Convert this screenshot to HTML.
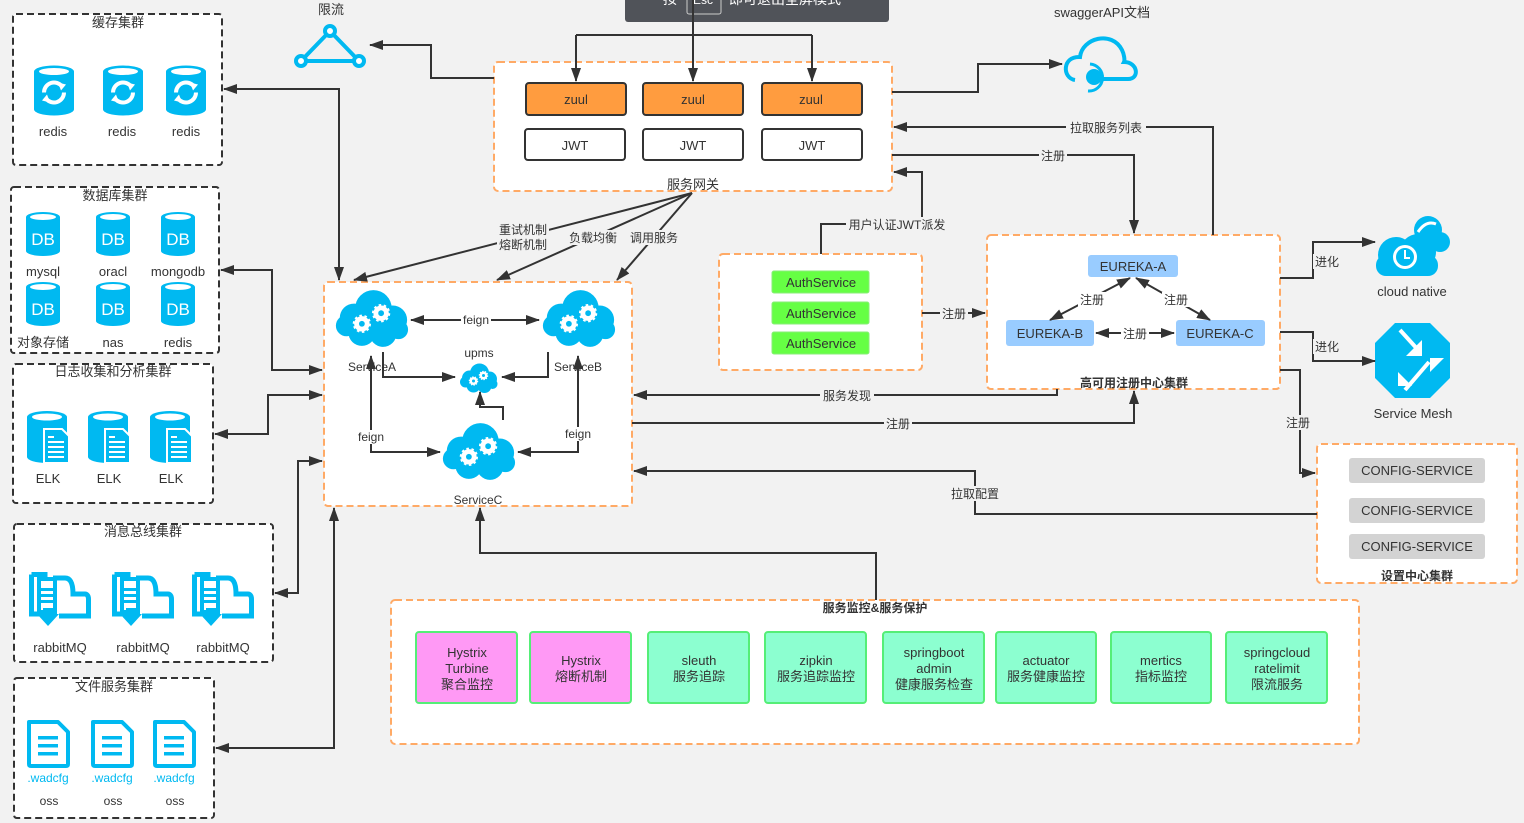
<!DOCTYPE html>
<html><head><meta charset="utf-8"><style>
html,body{margin:0;padding:0;background:#f2f2f2;}
svg{display:block;font-family:"Liberation Sans","Noto Sans CJK SC",sans-serif;}
</style></head><body>
<svg width="1524" height="823" viewBox="0 0 1524 823" xmlns="http://www.w3.org/2000/svg">
<defs>
<marker id="ar" markerWidth="14" markerHeight="10" refX="13" refY="5" orient="auto" markerUnits="userSpaceOnUse"><path d="M0,0 L14,5 L0,10 z" fill="#333"/></marker>
<marker id="as" markerWidth="14" markerHeight="10" refX="1" refY="5" orient="auto" markerUnits="userSpaceOnUse"><path d="M14,0 L0,5 L14,10 z" fill="#333"/></marker>
<symbol id="cloud" viewBox="0 0 80 64">
<circle cx="42" cy="22" r="19" fill="#00b9f1"/><circle cx="22" cy="32" r="15" fill="#00b9f1"/><circle cx="62" cy="34" r="15" fill="#00b9f1"/><circle cx="30" cy="47" r="14" fill="#00b9f1"/><circle cx="52" cy="48" r="14" fill="#00b9f1"/><circle cx="14" cy="40" r="11" fill="#00b9f1"/><circle cx="68" cy="44" r="10" fill="#00b9f1"/>
<circle cx="30" cy="38" r="8" fill="#fff" stroke="#fff" stroke-width="3" stroke-dasharray="2.5 2.5"/><circle cx="30" cy="38" r="3" fill="#00b9f1"/>
<circle cx="50" cy="27" r="8" fill="#fff" stroke="#fff" stroke-width="3" stroke-dasharray="2.5 2.5"/><circle cx="50" cy="27" r="3" fill="#00b9f1"/>
</symbol>
<symbol id="redis" viewBox="0 0 40 50">
<path d="M0,6 A20,6 0 0 1 40,6 V44 A20,6 0 0 1 0,44 Z" fill="#00b9f1"/><ellipse cx="20" cy="6" rx="15" ry="3.5" fill="#fff"/>
<path d="M10,27 A10,10 0 0 1 28,21" stroke="#fff" stroke-width="4" fill="none"/><path d="M30,27 A10,10 0 0 1 12,33" stroke="#fff" stroke-width="4" fill="none"/>
<path d="M24,17 L32,19 L27,25 z" fill="#fff"/><path d="M16,37 L8,35 L13,29 z" fill="#fff"/>
</symbol>
<symbol id="db" viewBox="0 0 34 44">
<path d="M0,5 A17,5 0 0 1 34,5 V39 A17,5 0 0 1 0,39 Z" fill="#00b9f1"/><ellipse cx="17" cy="5" rx="13" ry="3" fill="#fff"/>
</symbol>
<symbol id="elk" viewBox="0 0 42 52">
<path d="M0,6 A20,6 0 0 1 40,6 V46 A20,6 0 0 1 0,46 Z" fill="#00b9f1"/><ellipse cx="20" cy="6" rx="15" ry="3.5" fill="#fff"/>
<path d="M17,18 H35 L42,25 V52 H17 Z" fill="#00b9f1" stroke="#fff" stroke-width="2"/>
<g fill="#fff"><rect x="21" y="25" width="6" height="2"/><rect x="21" y="30" width="16" height="2"/><rect x="21" y="35" width="16" height="2"/><rect x="21" y="40" width="16" height="2"/><rect x="21" y="45" width="16" height="2"/></g>
</symbol>
<symbol id="mq" viewBox="0 0 62 56">
<path d="M2.5,2.5 H16 V7 M2.5,2.5 V42 H10" stroke="#00b9f1" stroke-width="5" fill="none"/>
<path d="M24,6 H36 C42,6 44,12 44,22 H56 C58,22 59.5,24 59.5,27 V44 H30" stroke="#00b9f1" stroke-width="5" fill="none"/>
<rect x="10" y="7" width="16" height="33" fill="#fff" stroke="#00b9f1" stroke-width="4"/>
<g fill="#00b9f1"><rect x="12" y="16" width="14" height="3"/><rect x="12" y="22" width="14" height="3"/><rect x="12" y="28" width="14" height="3"/></g>
<rect x="14" y="36" width="10" height="8" fill="#00b9f1"/>
<path d="M8,42 H30 L19,54 Z" fill="#00b9f1"/>
</symbol>
<symbol id="file" viewBox="0 0 44 48">
<path d="M3,2 H32 L42,12 V44 Q42,46 40,46 H5 Q3,46 3,44 Z" fill="#fff" stroke="#00b9f1" stroke-width="4" stroke-linejoin="round"/>
<g fill="#00b9f1"><rect x="12" y="16" width="20" height="3.5"/><rect x="12" y="24" width="20" height="3.5"/><rect x="12" y="32" width="20" height="3.5"/></g>
</symbol>
</defs>

<!-- banner -->
<rect x="625" y="-6" width="264" height="28" rx="3" fill="#505359"/>
<text x="663" y="4" font-size="14" fill="#fff">按</text>
<rect x="687" y="-5" width="34" height="19" rx="2" fill="none" stroke="#ccc"/>
<text x="693" y="4" font-size="12" fill="#fff">Esc</text>
<text x="729" y="4" font-size="14" fill="#fff">即可退出全屏模式</text>

<!-- left dashed clusters -->
<g fill="#fff" stroke="#333" stroke-width="2" stroke-dasharray="7 4">
<rect x="13" y="14" width="209" height="151" rx="3"/>
<rect x="11" y="187" width="208" height="166" rx="3"/>
<rect x="13" y="364" width="200" height="139" rx="3"/>
<rect x="14" y="524" width="259" height="138" rx="3"/>
<rect x="14" y="678" width="200" height="140" rx="3"/>
</g>
<g font-size="13" fill="#333" text-anchor="middle">
<text x="118" y="27">缓存集群</text>
<text x="115" y="200">数据库集群</text>
<text x="113" y="376">日志收集和分析集群</text>
<text x="143" y="536">消息总线集群</text>
<text x="114" y="691">文件服务集群</text>
</g>
<use href="#redis" x="34" y="65" width="40" height="51"/>
<use href="#redis" x="103" y="65" width="40" height="51"/>
<use href="#redis" x="166" y="65" width="40" height="51"/>
<g font-size="13" fill="#333" text-anchor="middle"><text x="53" y="136">redis</text><text x="122" y="136">redis</text><text x="186" y="136">redis</text></g>

<use href="#db" x="26" y="212" width="34" height="44"/><use href="#db" x="96" y="212" width="34" height="44"/><use href="#db" x="161" y="212" width="34" height="44"/>
<use href="#db" x="26" y="282" width="34" height="44"/><use href="#db" x="96" y="282" width="34" height="44"/><use href="#db" x="161" y="282" width="34" height="44"/>
<g font-size="17" fill="#fff" text-anchor="middle"><text x="43" y="245">DB</text><text x="113" y="245">DB</text><text x="178" y="245">DB</text><text x="43" y="315">DB</text><text x="113" y="315">DB</text><text x="178" y="315">DB</text></g>
<g font-size="13" fill="#333" text-anchor="middle"><text x="43" y="276">mysql</text><text x="113" y="276">oracl</text><text x="178" y="276">mongodb</text><text x="43" y="347">对象存储</text><text x="113" y="347">nas</text><text x="178" y="347">redis</text></g>

<use href="#elk" x="27" y="411" width="42" height="52"/><use href="#elk" x="88" y="411" width="42" height="52"/><use href="#elk" x="150" y="411" width="42" height="52"/>
<g font-size="13" fill="#333" text-anchor="middle"><text x="48" y="483">ELK</text><text x="109" y="483">ELK</text><text x="171" y="483">ELK</text></g>

<use href="#mq" x="29" y="572" width="62" height="56"/><use href="#mq" x="112" y="572" width="62" height="56"/><use href="#mq" x="192" y="572" width="62" height="56"/>
<g font-size="13" fill="#333" text-anchor="middle"><text x="60" y="652">rabbitMQ</text><text x="143" y="652">rabbitMQ</text><text x="223" y="652">rabbitMQ</text></g>

<use href="#file" x="26" y="720" width="44" height="48"/><use href="#file" x="90" y="720" width="44" height="48"/><use href="#file" x="152" y="720" width="44" height="48"/>
<g font-size="12" fill="#00b9f1" text-anchor="middle"><text x="48" y="782">.wadcfg</text><text x="112" y="782">.wadcfg</text><text x="174" y="782">.wadcfg</text></g>
<g font-size="12" fill="#333" text-anchor="middle"><text x="49" y="805">oss</text><text x="113" y="805">oss</text><text x="175" y="805">oss</text></g>

<!-- 限流 -->
<text x="331" y="14" font-size="13" fill="#333" text-anchor="middle">限流</text>
<g stroke="#00b9f1" stroke-width="4" fill="#fff"><path d="M330,31 L301,61 L359,61 Z" fill="none"/><circle cx="330" cy="31" r="5"/><circle cx="301" cy="61" r="5"/><circle cx="359" cy="61" r="5"/></g>

<!-- orange dashed boxes -->
<g fill="#fff" stroke="#ffaa66" stroke-width="2" stroke-dasharray="7 4">
<rect x="494" y="62" width="398" height="129" rx="4"/>
<rect x="324" y="282" width="308" height="224" rx="4"/>
<rect x="719" y="254" width="203" height="116" rx="4"/>
<rect x="987" y="235" width="293" height="154" rx="4"/>
<rect x="1317" y="444" width="200" height="139" rx="4"/>
<rect x="391" y="600" width="968" height="144" rx="4"/>
</g>

<!-- gateway -->
<g stroke="#333" stroke-width="2">
<rect x="526" y="83" width="100" height="32" rx="3" fill="#ff9c3f"/><rect x="643" y="83" width="100" height="32" rx="3" fill="#ff9c3f"/><rect x="762" y="83" width="100" height="32" rx="3" fill="#ff9c3f"/>
<rect x="525" y="129" width="100" height="31" rx="3" fill="#fff"/><rect x="643" y="129" width="100" height="31" rx="3" fill="#fff"/><rect x="762" y="129" width="100" height="31" rx="3" fill="#fff"/>
</g>
<g font-size="13" fill="#333" text-anchor="middle"><text x="576" y="104">zuul</text><text x="693" y="104">zuul</text><text x="811" y="104">zuul</text><text x="575" y="150">JWT</text><text x="693" y="150">JWT</text><text x="812" y="150">JWT</text></g>
<text x="693" y="189" font-size="13" fill="#333" text-anchor="middle">服务网关</text>

<!-- services -->
<use href="#cloud" x="333" y="287" width="77" height="62"/>
<use href="#cloud" x="540" y="287" width="77" height="62"/>
<use href="#cloud" x="440" y="420" width="77" height="62"/>
<use href="#cloud" x="457" y="362" width="43" height="32"/>
<g font-size="12" fill="#333" text-anchor="middle"><text x="372" y="371">ServiceA</text><text x="578" y="371">ServiceB</text><text x="478" y="504">ServiceC</text><text x="479" y="357">upms</text></g>

<!-- auth -->
<g fill="#66ff44" stroke="#88ee77"><rect x="772" y="271" width="97" height="22" rx="2"/><rect x="772" y="302" width="97" height="22" rx="2"/><rect x="772" y="332" width="97" height="22" rx="2"/></g>
<g font-size="13" fill="#333" text-anchor="middle"><text x="821" y="287">AuthService</text><text x="821" y="318">AuthService</text><text x="821" y="348">AuthService</text></g>

<!-- eureka -->
<g fill="#99ccff"><rect x="1088" y="255" width="90" height="22" rx="3"/><rect x="1006" y="320" width="88" height="26" rx="3"/><rect x="1176" y="320" width="89" height="26" rx="3"/></g>
<g font-size="13" fill="#333" text-anchor="middle"><text x="1133" y="271">EUREKA-A</text><text x="1050" y="338">EUREKA-B</text><text x="1220" y="338">EUREKA-C</text></g>
<text x="1134" y="387" font-size="12" font-weight="bold" fill="#333" text-anchor="middle">高可用注册中心集群</text>

<!-- config -->
<g fill="#d3d3d3"><rect x="1349" y="458" width="136" height="25" rx="3"/><rect x="1349" y="498" width="136" height="25" rx="3"/><rect x="1349" y="534" width="136" height="25" rx="3"/></g>
<g font-size="13" fill="#333" text-anchor="middle"><text x="1417" y="475">CONFIG-SERVICE</text><text x="1417" y="515">CONFIG-SERVICE</text><text x="1417" y="551">CONFIG-SERVICE</text></g>
<text x="1417" y="580" font-size="12" font-weight="bold" fill="#333" text-anchor="middle">设置中心集群</text>

<!-- monitor -->
<text x="875" y="612" font-size="12" font-weight="bold" fill="#333" text-anchor="middle">服务监控&amp;服务保护</text>
<g stroke="#55ee77" stroke-width="2">
<rect x="416" y="632" width="101" height="71" rx="3" fill="#ff99f5"/><rect x="530" y="632" width="101" height="71" rx="3" fill="#ff99f5"/>
<rect x="648" y="632" width="101" height="71" rx="3" fill="#8cffd0"/><rect x="765" y="632" width="101" height="71" rx="3" fill="#8cffd0"/>
<rect x="883" y="632" width="101" height="71" rx="3" fill="#8cffd0"/><rect x="996" y="632" width="100" height="71" rx="3" fill="#8cffd0"/>
<rect x="1111" y="632" width="100" height="71" rx="3" fill="#8cffd0"/><rect x="1226" y="632" width="101" height="71" rx="3" fill="#8cffd0"/>
</g>
<g font-size="13" fill="#333" text-anchor="middle">
<text x="467" y="657">Hystrix</text><text x="467" y="673">Turbine</text><text x="467" y="689">聚合监控</text>
<text x="581" y="665">Hystrix</text><text x="581" y="681">熔断机制</text>
<text x="699" y="665">sleuth</text><text x="699" y="681">服务追踪</text>
<text x="816" y="665">zipkin</text><text x="816" y="681">服务追踪监控</text>
<text x="934" y="657">springboot</text><text x="934" y="673">admin</text><text x="934" y="689">健康服务检查</text>
<text x="1046" y="665">actuator</text><text x="1046" y="681">服务健康监控</text>
<text x="1161" y="665">mertics</text><text x="1161" y="681">指标监控</text>
<text x="1277" y="657">springcloud</text><text x="1277" y="673">ratelimit</text><text x="1277" y="689">限流服务</text>
</g>

<!-- right icons -->
<text x="1102" y="17" font-size="13" fill="#333" text-anchor="middle">swaggerAPI文档</text>
<path d="M1075,80 C1062,78 1062,56 1080,57 C1082,38 1112,30 1122,50 C1124,54 1125,60 1124,62 C1138,62 1140,79 1128,79 L1102,79" fill="none" stroke="#00b9f1" stroke-width="4"/>
<circle cx="1094" cy="77" r="8" fill="#00b9f1"/><path d="M1088,91 A13,13 0 1 0 1090,64" fill="none" stroke="#00b9f1" stroke-width="3"/>

<g fill="#00b9f1"><circle cx="1428" cy="230" r="14"/><circle cx="1440" cy="242" r="10"/><circle cx="1396" cy="255" r="18"/><circle cx="1418" cy="252" r="18"/><rect x="1376" y="255" width="62" height="21" rx="10"/></g>
<circle cx="1405" cy="257" r="12" fill="#fff"/><circle cx="1405" cy="257" r="9" fill="#00b9f1"/><path d="M1405,250 V258 H1410" stroke="#fff" stroke-width="2" fill="none"/>
<path d="M1418,232 Q1426,220 1436,224" stroke="#fff" stroke-width="3" fill="none"/>
<text x="1412" y="296" font-size="13" fill="#333" text-anchor="middle">cloud native</text>

<path d="M1395,323 H1430 L1450,343 V378 L1430,398 H1395 L1375,378 V343 Z" fill="#00b9f1"/>
<g stroke="#fff" stroke-width="4" fill="none"><path d="M1400,330 L1420,352"/><path d="M1429,362 L1405,390"/></g>
<path d="M1422,340 V356 H1406 Z" fill="#fff"/><path d="M1430,358 H1444 L1430,372 Z" fill="#fff"/>
<path d="M1398,372 V386 H1412 Z" fill="#fff"/>
<text x="1413" y="418" font-size="13" fill="#333" text-anchor="middle">Service Mesh</text>

<!-- connectors -->
<g stroke="#333" stroke-width="2" fill="none">
<path d="M693,0 V81" marker-end="url(#ar)"/>
<path d="M576,35 H812 M576,35 V81" marker-end="url(#ar)"/>
<path d="M812,35 V81" marker-end="url(#ar)"/>
<path d="M494,78 H431 V45 H370" marker-end="url(#ar)"/>
<path d="M892,92 H978 V64 H1062" marker-end="url(#ar)"/>
<path d="M1213,235 V127 H894" marker-end="url(#ar)"/>
<path d="M892,155 H1134 V233" marker-end="url(#ar)"/>
<path d="M821,254 V224 H922 V172 H894" marker-end="url(#ar)"/>
<path d="M692,193 L354,280" marker-end="url(#ar)"/>
<path d="M692,193 L497,280" marker-end="url(#ar)"/>
<path d="M692,193 L617,280" marker-end="url(#ar)"/>
<path d="M224,89 H339 V280" marker-start="url(#as)" marker-end="url(#ar)"/>
<path d="M221,270 H272 V370 H322" marker-start="url(#as)" marker-end="url(#ar)"/>
<path d="M215,434 H268 V395 H322" marker-start="url(#as)" marker-end="url(#ar)"/>
<path d="M275,593 H298 V461 H322" marker-start="url(#as)" marker-end="url(#ar)"/>
<path d="M216,748 H334 V508" marker-start="url(#as)" marker-end="url(#ar)"/>
<path d="M922,313 H985" marker-end="url(#ar)"/>
<path d="M1057,389 V395 H634" marker-end="url(#ar)"/>
<path d="M632,423 H1134 V391" marker-end="url(#ar)"/>
<path d="M1317,514 H975 V471 H634" marker-end="url(#ar)"/>
<path d="M1280,370 H1300 V473 H1315" marker-end="url(#ar)"/>
<path d="M1280,278 H1313 V242 H1375" marker-end="url(#ar)"/>
<path d="M1280,332 H1313 V361 H1375" marker-end="url(#ar)"/>
<path d="M876,600 V553 H480 V508" marker-end="url(#ar)"/>
<path d="M411,320 H539" marker-start="url(#as)" marker-end="url(#ar)"/>
<path d="M383,352 V377 H455" marker-end="url(#ar)"/>
<path d="M548,352 V377 H502" marker-end="url(#ar)"/>
<path d="M503,420 V407 H480 V392" marker-end="url(#ar)"/>
<path d="M371,356 V452 H440" marker-start="url(#as)" marker-end="url(#ar)"/>
<path d="M578,356 V452 H518" marker-start="url(#as)" marker-end="url(#ar)"/>
<path d="M1130,278 L1050,320" marker-start="url(#as)" marker-end="url(#ar)"/>
<path d="M1136,278 L1210,320" marker-start="url(#as)" marker-end="url(#ar)"/>
<path d="M1096,333 H1174" marker-start="url(#as)" marker-end="url(#ar)"/>
</g>

<!-- connector labels -->
<g font-size="12" fill="#333" text-anchor="middle">
<rect x="1066" y="120" width="80" height="15" fill="#f2f2f2"/><text x="1106" y="132">拉取服务列表</text>
<rect x="1039" y="148" width="28" height="15" fill="#f2f2f2"/><text x="1053" y="160">注册</text>
<rect x="846" y="217" width="104" height="15" fill="#f2f2f2"/><text x="897" y="229">用户认证JWT派发</text>
<rect x="497" y="222" width="52" height="30" fill="#f2f2f2"/><text x="523" y="234">重试机制</text><text x="523" y="249">熔断机制</text>
<rect x="566" y="230" width="54" height="15" fill="#f2f2f2"/><text x="593" y="242">负载均衡</text>
<rect x="628" y="230" width="52" height="15" fill="#f2f2f2"/><text x="654" y="242">调用服务</text>
<rect x="940" y="306" width="28" height="15" fill="#f2f2f2"/><text x="954" y="318">注册</text>
<rect x="820" y="388" width="54" height="15" fill="#f2f2f2"/><text x="847" y="400">服务发现</text>
<rect x="884" y="416" width="28" height="15" fill="#f2f2f2"/><text x="898" y="428">注册</text>
<rect x="948" y="486" width="54" height="15" fill="#f2f2f2"/><text x="975" y="498">拉取配置</text>
<rect x="1284" y="415" width="28" height="15" fill="#f2f2f2"/><text x="1298" y="427">注册</text>
<rect x="1313" y="254" width="28" height="15" fill="#f2f2f2"/><text x="1327" y="266">进化</text>
<rect x="1313" y="339" width="28" height="15" fill="#f2f2f2"/><text x="1327" y="351">进化</text>
</g>
<g font-size="12" fill="#333" text-anchor="middle">
<rect x="461" y="313" width="30" height="14" fill="#fff"/><text x="476" y="324">feign</text>
<rect x="356" y="430" width="30" height="14" fill="#fff"/><text x="371" y="441">feign</text>
<rect x="563" y="427" width="30" height="14" fill="#fff"/><text x="578" y="438">feign</text>
<rect x="1078" y="292" width="28" height="15" fill="#fff"/><text x="1092" y="304">注册</text>
<rect x="1162" y="292" width="28" height="15" fill="#fff"/><text x="1176" y="304">注册</text>
<rect x="1121" y="326" width="28" height="15" fill="#fff"/><text x="1135" y="338">注册</text>
</g>
</svg>
</body></html>
